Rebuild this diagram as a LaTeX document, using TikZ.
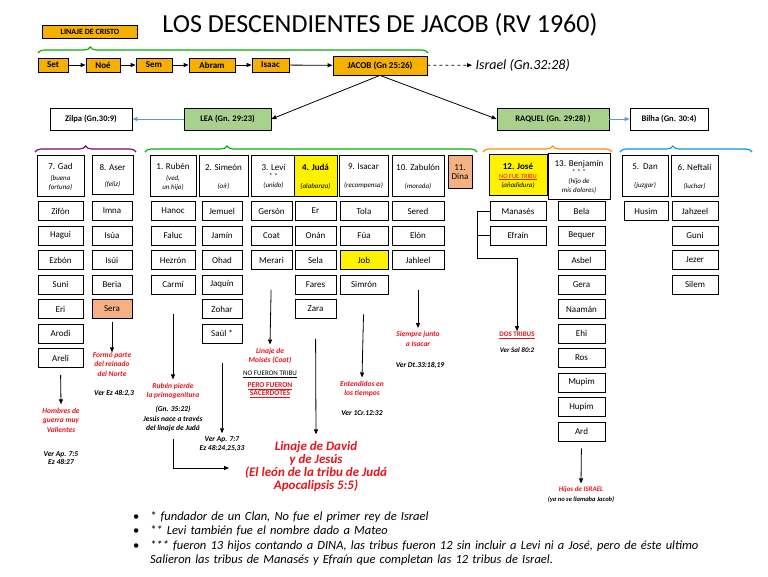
\documentclass[tikz,border=0pt]{standalone}
\usepackage{fontspec}
\setmainfont{Carlito}
\usetikzlibrary{arrows.meta,decorations.pathreplacing}
\newcommand{\fs}[1]{\fontsize{#1}{#1}\selectfont}
\definecolor{gold}{HTML}{F5B000}
\definecolor{lgreen}{HTML}{A9D18E}
\definecolor{peach}{HTML}{F4B183}
\definecolor{myred}{HTML}{E8141B}
\definecolor{lblue}{HTML}{5B9BD5}
\begin{document}
\begin{tikzpicture}[x=1pt,y=-1pt,
  bx/.style={draw, line width=0.9pt, inner sep=0pt, minimum width=44, minimum height=19, font=\fs{9}},
  hd/.style={draw, line width=0.9pt, inner sep=1pt, minimum height=41, align=center, font=\fs{9}, text depth=0pt},
  top/.style={draw, line width=0.8pt, fill=gold, inner sep=0pt, minimum height=14, font=\fs{9}\bfseries},
  mid/.style={draw, line width=0.8pt, inner sep=0pt, minimum height=22, font=\fs{8.5}\bfseries},
  arr/.style={-{Triangle[length=5pt,width=4pt]}, line width=0.8pt},
  red/.style={text=myred, font=\fs{7.5}\bfseries\itshape, align=center},
  ref/.style={font=\fs{7.5}\bfseries\itshape, align=center},
  br/.style={decorate, decoration={brace, amplitude=6pt, aspect=#1}, line width=1.1pt},
]
\useasboundingbox (0,0) rectangle (768,576);
% title
\node[font=\fs{26}] (title) at (380,25) {LOS DESCENDIENTES DE JACOB (RV 1960)};
\node[top, minimum width=95, minimum height=13, font=\fs{8}\bfseries] (lin) at (90,32) {LINAJE DE CRISTO};
\draw[br=0.134, color=green!70!black] (38,53) -- (428,53);
% top row
\node[top, minimum width=30] (set) at (53,65) {Set};
\node[top, minimum width=34] (noe) at (103,65) {Noé};
\node[top, minimum width=36] (sem) at (154,65) {Sem};
\node[top, minimum width=46] (abr) at (212,65) {Abram};
\node[top, minimum width=37] (isa) at (270.5,65) {Isaac};
\node[top, minimum width=94, minimum height=19] (jac) at (380,65.5) {JACOB (Gn 25:26)};
\node[font=\fs{14}\itshape, anchor=west] (isr) at (472,65) {Israel (Gn.32:28)};
\draw[arr] (set) -- (noe);
\draw[arr] (noe) -- (sem);
\draw[arr] (sem) -- (abr);
\draw[arr] (abr) -- (isa);
\draw[arr] (isa) -- (jac);
\draw[arr, dashed] (jac) -- (isr);
% second row
\node[mid, minimum width=82] (zil) at (91,119) {Zilpa (Gn.30:9)};
\node[mid, fill=lgreen, minimum width=87] (lea) at (227.5,119) {LEA (Gn. 29:23)};
\node[mid, fill=lgreen, minimum width=112] (raq) at (553,119) {RAQUEL (Gn. 29:28) )};
\node[mid, minimum width=78] (bil) at (669,119) {Bilha (Gn. 30:4)};
\draw[arr] (jac.south) -- (lea.east);
\draw[arr] (jac.south) -- (raq.west);
\draw[arr, lblue, line width=1pt] (lea) -- (zil);
\draw[arr, lblue, line width=1pt] (raq) -- (bil);
% braces
\draw[br=0.5, color=violet] (35,152) -- (136,152);
\draw[br=0.247, color=green!70!black] (145,152) -- (477,152);
\draw[br=0.54, color=orange!90!yellow] (483,152) -- (612,152);
\draw[br=0.4, color=cyan!80!blue] (620,152) -- (752,152);
% headers
\node[hd, minimum width=47] (gad) at (60.5,176) {7. Gad\\[2pt]{\fs{7}\itshape(buena}\\{\fs{7}\itshape fortuna)}};
\node[hd, minimum width=41, minimum height=39] (ase) at (112.5,175) {8. Aser\\[7pt]{\fs{7}\itshape(feliz)}};
\node[hd, minimum width=46] (rub) at (173,176) {1. Rubén\\[2pt]{\fs{7}\itshape(ved,}\\{\fs{7}\itshape un hijo)}};
\node[hd, minimum width=49] (sim) at (223.5,176) {2. Simeón\\[9pt]{\fs{7}\itshape(oír)}};
\node[hd, minimum width=45] (lev) at (273.5,176) {3. Leví\\[-1pt]{\fs{7}* *}\\{\fs{7}\itshape(unido)}};
\node[hd, fill=yellow, minimum width=43] (jud) at (315.5,176) {\bfseries 4. Judá\\[9pt]{\fs{7}\itshape(alabanza)}};
\node[hd, minimum width=49] (isc) at (363.5,176) {9. Isacar\\[9pt]{\fs{7}\itshape(recompensa)}};
\node[hd, minimum width=52] (zab) at (418,176) {10. Zabulón\\[9pt]{\fs{7}\itshape(morada)}};
\node[hd, fill=peach, minimum width=24, minimum height=33] (din) at (460,172) {11.\\Dina};
\node[hd, fill=yellow, minimum width=58] (jos) at (518,175) {\bfseries 12. José\\{\fs{6.5}\color{myred}\underline{NO FUE TRIBU}}\\{\fs{7}\itshape(añadidura)}};
\node[hd, minimum width=62, minimum height=46] (ben) at (579,176) {13. Benjamín\\[-1pt]{\fs{7}* * *}\\{\fs{7}\itshape(hijo de}\\{\fs{7}\itshape mis dolores)}};
\node[hd, minimum width=46] (dan) at (645,176) {5.\ \ Dan\\[9pt]{\fs{7}\itshape(juzgar)}};
\node[hd, minimum width=47] (nef) at (694.5,176) {6. Neftalí\\[9pt]{\fs{7}\itshape(luchar)}};
% children
\foreach \t [count=\i] in {Zifón,Hagui,Ezbón,Suni,Eri,Arodi,Areli}
  \node[bx, minimum width=45] (gad\i) at (60.5,{211+24.5*(\i-1)}) {\t};
\foreach \t [count=\i] in {Imna,Isúa,Isúi,Beria}
  \node[bx, minimum width=40] (ase\i) at (112,{211+24.5*(\i-1)}) {\t};
\node[bx, minimum width=40, fill=peach] (ase5) at (112,309) {Sera};
\foreach \t [count=\i] in {Hanoc,Faluc,Hezrón,Carmí}
  \node[bx] (rub\i) at (173,{211+24.5*(\i-1)}) {\t};
\foreach \t [count=\i] in {Jemuel,Jamín,Ohad,Jaquín,Zohar,Saúl *}
  \node[bx, minimum width=40] (sim\i) at (222,{211+24.5*(\i-1)}) {\t};
\foreach \t [count=\i] in {Gersón,Coat,Merari}
  \node[bx, minimum width=41] (lev\i) at (271.5,{211+24.5*(\i-1)}) {\t};
\foreach \t [count=\i] in {Er,Onán,Sela,Fares,Zara}
  \node[bx, minimum width=41] (jud\i) at (315.5,{211+24.5*(\i-1)}) {\t};
\node[bx, minimum width=48] (isc1) at (364,211) {Tola};
\node[bx, minimum width=48] (isc2) at (364,235.5) {Fúa};
\node[bx, minimum width=48, fill=yellow] (isc3) at (364,260) {Job};
\node[bx, minimum width=48] (isc4) at (364,284.5) {Simrón};
\foreach \t [count=\i] in {Sered,Elón,Jahleel}
  \node[bx, minimum width=52] (zab\i) at (418,{211+24.5*(\i-1)}) {\t};
\node[bx, minimum width=56] (mana) at (518,211) {Manasés};
\node[bx, minimum width=56] (efra) at (518,235.5) {Efraín};
\foreach \t [count=\i] in {Bela,Bequer,Asbel,Gera,Naamán,Ehi,Ros,Mupim,Hupim,Ard}
  \node[bx, minimum width=47] (ben\i) at (581.5,{211+24.5*(\i-1)}) {\t};
\node[bx, minimum width=44] (dan1) at (646,211) {Husim};
\foreach \t [count=\i] in {Jahzeel,Guni,Jezer,Silem}
  \node[bx, minimum width=46] (nef\i) at (695,{211+24.5*(\i-1)}) {\t};
% annotations
\node[red] (gadt) at (61,420) {Hombres de\\[2pt]guerra muy\\[2pt]Valientes};
\node[ref] (gadr) at (61,458) {Ver Ap. 7:5\\[1pt]Ez 48:27};
\draw[arr, shorten <=7pt] (gad7.south) -- (gadt.north);
\node[red] (aset) at (112,364) {Formó parte\\[2pt]del reinado\\[2pt]del Norte};
\node[ref] (aser) at (114,393) {Ver Ez 48:2,3};
\draw[arr, shorten <=3pt] (ase5.south) -- ([yshift=-4pt]aset.north);
\node[red] (rubt) at (173,391) {Rubén pierde\\[2pt]la primogenitura};
\node[ref] (rubr) at (173,419) {(Gn. 35:22)\\[2pt]Jesús nace a través\\[2pt]del linaje de Judá};
\draw[arr, shorten <=20pt] (rub4.south) -- (rubt.north);
\node[ref] (simr) at (222,444) {Ver Ap. 7:7\\[1pt]Ez 48:24,25,33};
\draw[arr, shorten <=20pt] (sim6.south) -- (simr.north);
\node[red] (levt) at (270,356) {Linaje de\\[2pt]Moisés (Coat)};
\node[font=\fs{7}, align=center] (levn) at (270,374) {\underline{NO FUERON TRIBU}};
\node[red, font=\fs{7.5}\bfseries, anchor=north] (levs) at (270,379) {\underline{PERO FUERON}\\[1pt]\underline{SACERDOTES}};
\draw[arr, shorten <=20pt] (lev3.south) -- (levt.north);
\node[text=myred, font=\fs{13}\bfseries\itshape, align=center] (dav) at (316,466) {Linaje de David\\y de Jesús\\(El león de la tribu de Judá\\Apocalipsis 5:5)};
\draw[arr, shorten <=20pt] (jud5.south) -- ([yshift=3pt]dav.north);
\coordinate (rc) at (173,468);
\draw[line width=0.8pt] ([yshift=-4pt]rubr.south) -- (rc);
\draw[arr] (rc) -- (229,468);
\node[red] (isct) at (362,389) {Entendidos en\\[2pt]los tiempos};
\node[ref] (iscr) at (362,413) {Ver 1Cr.12:32};
\draw[arr, shorten <=20pt] (isc4.south) -- (isct.north);
\node[red] (zabt) at (418,339) {Siempre junto\\[2pt]a Isacar};
\node[ref] (zabr) at (420,365) {Ver Dt.33:18,19};
\draw[arr, shorten <=20pt] (zab3.south) -- (zabt.north);
\node[red, font=\fs{7}\bfseries] (dos) at (517,335) {\underline{DOS TRIBUS}};
\node[ref, font=\fs{7}\bfseries\itshape] (dosr) at (517,350) {Ver Sal 80:2};
\coordinate (jb) at (477,258);
\draw[line width=0.8pt] (mana.west) -| (jb);
\draw[line width=0.8pt] (efra.west) -- (efra.west -| jb);
\draw[arr] (jb) -| ([yshift=-3pt]dos.north);
\node[red, font=\fs{7}\bfseries\itshape] (bent) at (581,490) {Hijos de ISRAEL};
\node[ref, font=\fs{6.5}\bfseries\itshape] (benr) at (581,500) {(ya no se llamaba Jacob)};
\draw[arr, shorten <=7pt] (ben10.south) -- (bent.north);
% notes
\node[anchor=north west, align=left, font=\fontsize{12.5}{14.5}\selectfont\itshape, text width=620, inner sep=0pt] (notes) at (133,511) {%
\makebox[17pt][l]{\upshape•}* fundador de un Clan, No fue el primer rey de Israel\\
\makebox[17pt][l]{\upshape•}** Levi también fue el nombre dado a Mateo\\
\makebox[17pt][l]{\upshape•}*** fueron 13 hijos contando a DINA, las tribus fueron 12 sin incluir a Levi ni a José, pero de éste ultimo\\
\hspace*{17pt}Salieron las tribus de Manasés y Efraín que completan las 12 tribus de Israel.};
\end{tikzpicture}
\end{document}
